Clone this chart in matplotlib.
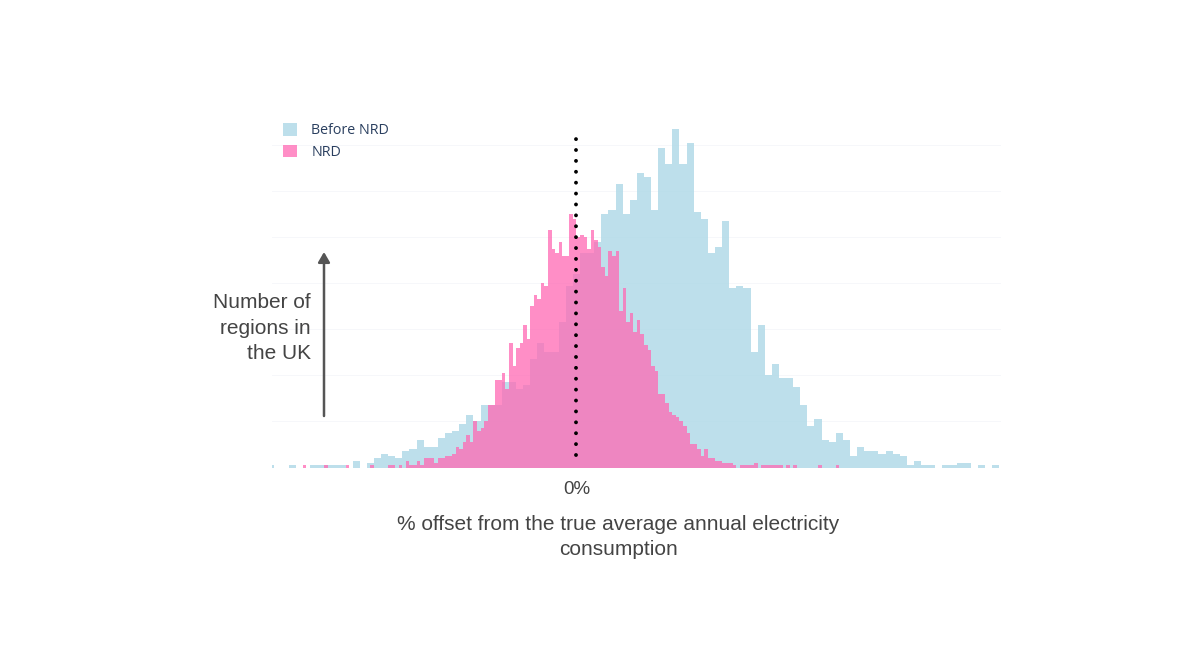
import numpy as np
import matplotlib
matplotlib.use("Agg")
import matplotlib.pyplot as plt
from matplotlib.patches import Patch

# ---------------- data ----------------
# "Before NRD": bins of width 2 (% units), first bin starts at -87
before_start = -87
before_width = 2
before_counts = [
    1, 0, 0, 1, 0, 0, 1, 1, 1, 1,        # -87 .. -67
    1, 0, 3, 0, 2, 4, 6, 5, 4, 7,        # -67 .. -47
    8, 12, 9, 9, 13, 15, 16, 19, 23, 20,  # -47 .. -27
    27, 27, 27, 37, 37, 34, 36, 47, 54, 50,  # -27 .. -7
    50, 63, 79, 84, 93, 93, 98, 110, 112, 123,  # -7 .. 13
    110, 116, 128, 126, 112, 139, 132, 147, 132, 141,  # 13 .. 33
    111, 108, 93, 96, 107, 78, 79, 78, 50, 62,  # 33 .. 53
    40, 45, 39, 39, 35, 27, 18, 21, 12, 11,  # 53 .. 73
    15, 12, 5, 9, 7, 7, 6, 7, 6, 5,  # 73 .. 93
    1, 3, 1, 1, 0, 1, 1, 2, 2, 0,  # 93 .. 113
    1, 0, 1,  # 113 .. 119
]

# "NRD": bins of width 1 (% units), first bin starts at -77
nrd_start = -77
nrd_width = 1
nrd_counts = [
    1, 0, 0, 0, 0, 0, 1, 0, 0, 0,        # -77
    0, 0, 1, 0, 0, 0, 0, 0, 0, 1,        # -67
    0, 0, 0, 0, 1, 1, 0, 1, 0, 3,        # -57
    1, 1, 3, 1, 4, 4, 4, 2, 4, 4,        # -47
    5, 5, 6, 9, 8, 11, 14, 11, 20, 16,   # -37
    17, 20, 27, 27, 38, 38, 41, 34, 54, 44,  # -27
    52, 54, 62, 56, 70, 75, 73, 80, 79, 103,  # -17
    95, 93, 98, 92, 92, 110, 108, 100, 101, 100,  # -7
    95, 103, 99, 96, 87, 83, 94, 92, 94, 68,  # 3
    78, 63, 67, 59, 64, 58, 53, 51, 44, 42,  # 13
    32, 32, 28, 24, 23, 22, 20, 18, 15, 10,  # 23
    10, 8, 5, 8, 4, 4, 3, 3, 2, 2,       # 33
    2, 1, 0, 1, 1, 1, 1, 2, 0, 1,        # 43
    1, 1, 1, 1, 1, 0, 1, 0, 1, 0,        # 53
    0, 0, 0, 0, 0, 1, 0, 0, 0, 0,        # 63
    1,                                   # 73
]

series_names = ["Before NRD", "NRD"]
zero_tick_label = "0%"
y_title = "Number of\nregions in\nthe UK"
x_title = "% offset from the true average annual electricity\nconsumption"

# ---------------- style ----------------
W, H = 1200, 667
fig = plt.figure(figsize=(W / 100, H / 100), dpi=100)
fig.patch.set_facecolor("white")

def fx(px):
    return px / W

def fy(py):
    return 1 - py / H

ax_left, ax_right, ax_bottom, ax_top = 272, 1001, 467.5, 113
ax = fig.add_axes([fx(ax_left), fy(ax_bottom), (ax_right - ax_left) / W, (ax_bottom - ax_top) / H])
ax.set_facecolor("white")

blue = "#add8e6"
pink = "#ff69b4"

before_edges = before_start + before_width * np.arange(len(before_counts) + 1)
nrd_edges = nrd_start + nrd_width * np.arange(len(nrd_counts) + 1)

for g in range(20, 160, 20):
    ax.axhline(g, color="#f6f7fa", lw=0.7, zorder=0)

ax.stairs(before_counts, before_edges, fill=True, color=blue, alpha=0.8, lw=0, zorder=2)
ax.stairs(nrd_counts, nrd_edges, fill=True, color=pink, alpha=0.75, lw=0, zorder=3)

# dotted zero line
ax.plot([0, 0], [5.4, 143.7], color="black", lw=2.8,
        linestyle=(0, (0.001, 2.8)), dash_capstyle="round", zorder=5)

ax.set_xlim(-85.7, 119.5)
ax.set_ylim(0, 154)
ax.set_xticks([0])
ax.set_xticklabels([zero_tick_label])
ax.set_yticks([])
ax.tick_params(axis="x", length=0, pad=9.5, labelsize=13.5, labelcolor="#444444")
for lab in ax.get_xticklabels():
    lab.set_fontfamily("Liberation Sans")
for s in ax.spines.values():
    s.set_visible(False)

# legend
handles = [Patch(facecolor=blue, alpha=0.8, edgecolor="none"),
           Patch(facecolor=pink, alpha=0.75, edgecolor="none")]
leg = fig.legend(handles, series_names, loc="upper left",
                 bbox_to_anchor=(fx(270), fy(110)), bbox_transform=fig.transFigure,
                 frameon=False, handlelength=1.0, handleheight=1.0, handletextpad=1.0,
                 labelspacing=0.45, prop={"family": "Open Sans", "size": 10.3})
for t in leg.get_texts():
    t.set_color("#2a3f5f")

# y annotation with arrow
fig.text(fx(311), fy(328), y_title, ha="right", va="center", fontsize=15,
         color="#444444", family="Liberation Sans", linespacing=1.45)
fig.patches.append(matplotlib.patches.FancyArrowPatch(
    (fx(324), fy(416)), (fx(324), fy(252)), transform=fig.transFigure,
    arrowstyle="-|>,head_length=6,head_width=3.5", color="#555555", lw=1.8,
    shrinkA=0, shrinkB=0))

# x title
fig.text(fx(618), fy(537), x_title, ha="center", va="center", fontsize=15,
         color="#444444", family="Liberation Sans", linespacing=1.45)

fig.savefig("out.png", dpi=100, facecolor="white")
